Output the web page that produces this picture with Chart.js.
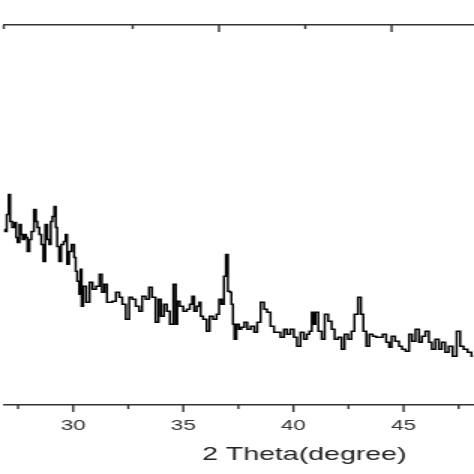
<!DOCTYPE html>
<html>
<head>
<meta charset="utf-8">
<script src="https://cdn.jsdelivr.net/npm/chart.js@4/dist/chart.umd.min.js"></script>
<style>
  html, body { margin: 0; padding: 0; background: #fff; overflow: hidden; }
  /* the source figure is stretched sideways, so the canvas is too */
  #wrap { position: absolute; left: 0; top: 0; width: 404px; height: 474px;
          transform: scaleX(1.5); transform-origin: 0 0; }
</style>
</head>
<body>
<div id="wrap"><canvas id="xrd-chart"></canvas></div>
<script>
// 2 theta (degree)
var twoTheta = [26.85, 26.94, 27.03, 27.12, 27.16, 27.30, 27.39, 27.43, 27.52, 27.61, 27.66, 27.75, 27.84, 27.88, 27.97,
    28.06, 28.15, 28.29, 28.33, 28.42, 28.51, 28.60, 28.69, 28.78, 28.87, 28.96, 29.01, 29.10, 29.19, 29.23,
    29.32, 29.41, 29.50, 29.64, 29.68, 29.77, 29.86, 30.00, 30.09, 30.14, 30.23, 30.32, 30.36, 30.41, 30.50,
    30.68, 30.81, 30.95, 31.13, 31.26, 31.35, 31.49, 31.58, 31.71, 31.85, 32.03, 32.16, 32.30, 32.48, 32.61,
    32.75, 32.93, 33.06, 33.20, 33.38, 33.51, 33.65, 33.83, 33.92, 34.05, 34.19, 34.32, 34.46, 34.64, 34.68,
    34.77, 34.91, 35.09, 35.23, 35.36, 35.45, 35.54, 35.68, 35.77, 35.81, 35.99, 36.13, 36.26, 36.44, 36.58,
    36.67, 36.80, 36.89, 36.98, 37.07, 37.16, 37.21, 37.30, 37.34, 37.48, 37.57, 37.70, 37.84, 37.97, 38.15,
    38.29, 38.42, 38.60, 38.74, 38.87, 39.05, 39.19, 39.32, 39.50, 39.64, 39.77, 39.95, 40.09, 40.23, 40.41,
    40.54, 40.68, 40.77, 40.90, 40.95, 41.04, 41.22, 41.35, 41.49, 41.67, 41.80, 41.94, 42.12, 42.25, 42.39,
    42.57, 42.70, 42.84, 43.02, 43.11, 43.24, 43.38, 43.51, 43.69, 43.83, 43.96, 44.14, 44.28, 44.41, 44.50,
    44.73, 44.86, 45.00, 45.18, 45.32, 45.45, 45.63, 45.77, 45.90, 46.08, 46.22, 46.35, 46.53, 46.67, 46.80,
    46.98, 47.12, 47.34, 47.48, 47.66, 47.79, 48.02, 48.15];

// intensity (a.u.)
var intensity = [352, 348, 382, 422, 368, 356, 366, 336, 326, 362, 342, 332, 342, 336, 308,
    332, 348, 392, 368, 356, 342, 322, 288, 362, 332, 322, 368, 378, 398, 356,
    318, 288, 322, 328, 342, 282, 308, 322, 296, 268, 248, 222, 272, 198, 238,
    206, 246, 232, 238, 262, 226, 242, 206, 206, 208, 226, 216, 202, 172, 216,
    212, 198, 188, 218, 212, 236, 216, 166, 212, 178, 202, 188, 162, 242, 162,
    208, 198, 188, 192, 202, 218, 188, 198, 206, 178, 172, 148, 178, 172, 182,
    212, 202, 258, 302, 228, 226, 202, 162, 132, 162, 152, 156, 166, 152, 158,
    146, 166, 206, 192, 186, 158, 146, 146, 136, 152, 142, 152, 136, 118, 146,
    132, 142, 148, 186, 162, 186, 148, 132, 182, 168, 152, 132, 136, 112, 142,
    132, 148, 182, 216, 182, 148, 118, 142, 138, 136, 136, 142, 126, 116, 138,
    128, 118, 112, 108, 142, 128, 152, 126, 138, 148, 126, 112, 132, 112, 126,
    106, 118, 98, 148, 118, 112, 106, 98];

var labelledTicks = [30, 35, 40, 45];
var xMin = 26.85, xMax = 54.14;
var yMin = 0, yMax = 762;

// points of the line
var points = twoTheta.map(function (t, i) { return { x: t, y: intensity[i] }; });

// short tick marks, long on labelled values (bottom) and even steps (top)
var tickMarks = {
    id: 'tickMarks',
    afterDraw: function (chart) {
        var ctx = chart.ctx;
        var area = chart.chartArea;
        var xb = chart.scales.x;
        var xt = chart.scales.x2;
        ctx.save();
        ctx.strokeStyle = '#333';
        ctx.lineWidth = 1.4;
        ctx.beginPath();
        xb.ticks.forEach(function (t) {
            var px = xb.getPixelForValue(t.value);
            var len = labelledTicks.indexOf(t.value) >= 0 ? 7 : 4;
            ctx.moveTo(px, area.bottom);
            ctx.lineTo(px, area.bottom + len);
        });
        xt.ticks.forEach(function (t) {
            var px = xt.getPixelForValue(t.value);
            var len = t.value % 2 === 0 ? 7 : 4;
            ctx.moveTo(px, area.top);
            ctx.lineTo(px, area.top + len);
        });
        ctx.stroke();
        ctx.restore();
    }
};

var xrd = document.getElementById('xrd-chart').getContext('2d');
var xrdChart = new Chart(xrd, {
    type: 'line',
    data: {
        datasets: [{
            data: points,
            borderColor: '#000',
            borderWidth: 1.5,
            pointRadius: 0,
            stepped: 'middle',
            fill: false
        }]
    },
    options: {
        responsive: true,
        maintainAspectRatio: false,
        animation: false,
        layout: { padding: { top: 25, left: 0, right: 0, bottom: 0 } },
        plugins: { legend: { display: false }, tooltip: { enabled: false } },
        scales: {
            x: {
                type: 'linear',
                position: 'bottom',
                min: xMin,
                max: xMax,
                grid: { display: false, drawTicks: false },
                border: { display: true, color: '#333', width: 1.5 },
                ticks: {
                    stepSize: 2.5,
                    includeBounds: false,
                    autoSkip: false,
                    maxRotation: 0,
                    padding: 12,
                    color: '#333',
                    font: { family: 'Liberation Sans', size: 15 },
                    callback: function (v) { return labelledTicks.indexOf(v) >= 0 ? String(v) : ''; }
                },
                title: {
                    display: true,
                    text: '2 Theta(degree)',
                    color: '#222',
                    font: { family: 'Liberation Sans', size: 19 },
                    padding: { top: -3.4, bottom: 7.6 }
                }
            },
            x2: {
                type: 'linear',
                position: 'top',
                min: -0.494,
                max: 6.472,
                grid: { display: false, drawTicks: false },
                border: { display: true, color: '#333', width: 1.5 },
                ticks: { display: false, stepSize: 1 }
            },
            y: {
                display: false,
                min: yMin,
                max: yMax
            }
        }
    },
    plugins: [tickMarks]
});
</script>
</body>
</html>
